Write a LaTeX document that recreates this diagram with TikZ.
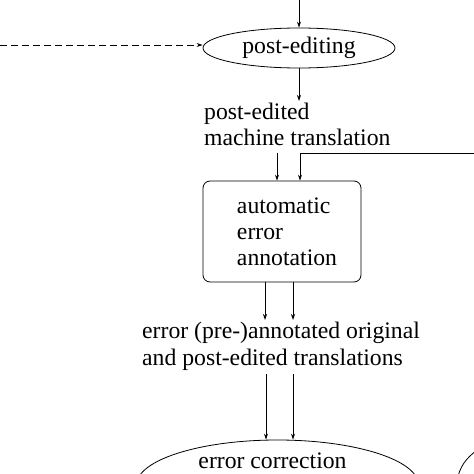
\documentclass[tikz,border=0pt]{standalone}
\usepackage{fontspec}
\setmainfont{Liberation Serif}
\usetikzlibrary{shapes.geometric,arrows.meta}
\begin{document}
\begin{tikzpicture}[x=1pt,y=-1pt,
  every node/.style={font=\fontsize{23.7}{25.5}\selectfont, inner sep=0pt},
  arr/.style={draw, line width=0.8pt, -{Stealth[length=6pt,width=4pt]}},
  dasharr/.style={arr, dash pattern=on 7pt off 4pt},
  oval/.style={ellipse, draw, line width=0.8pt},
  procbox/.style={draw, rounded corners=7pt, line width=0.8pt, minimum width=158pt, minimum height=101pt, align=left, font=\fontsize{23.7}{26}\selectfont},
  lbl/.style={align=left}]
\useasboundingbox (0,0) rectangle (474,474);
\clip (0,0) rectangle (474,474);
% nodes
\node[oval, minimum width=192pt, minimum height=40pt] (pe) at (299,48) {post-editing};
\node[lbl, anchor=north west] (pemt) at (204,103) {post-edited\\machine translation};
\node[procbox] (box) at (282,231.5) {\hspace*{10pt}automatic\\\hspace*{10pt}error\\\hspace*{10pt}annotation};
\node[lbl, anchor=north west, font=\fontsize{23.7}{27}\selectfont] (ept) at (142,322) {error (pre-)annotated original\\and post-edited translations};
\node[oval, minimum width=282pt, minimum height=90pt] (ec) at (277.5,485) {};
\node[anchor=base] (ectext) at (272.5,468) {error correction};
\node[oval, minimum width=110pt, minimum height=90pt] (rc) at (512,485) {};
% free ends
\coordinate (topin) at (299,0);
\coordinate (dsrc) at (0,45);
\coordinate (rin) at (474,153);
% connectors
\draw[arr] (topin) -- (pe.north);
\draw[dasharr] (dsrc) -- (dsrc -| pe.west);
\draw[arr, shorten >=2pt] (pe.south) -- (pe.south |- pemt.north);
\draw[arr] ([xshift=-5pt,yshift=28pt]box.north) -- ([xshift=-5pt]box.north);
\draw[arr] (rin) -| ([xshift=18pt]box.north);
\draw[arr, shorten >=2pt] ([xshift=-17pt]box.south) -- ([xshift=-17pt]box.south |- ept.north);
\draw[arr, shorten >=2pt] ([xshift=11pt]box.south) -- ([xshift=11pt]box.south |- ept.north);
\draw[arr, shorten <=3pt] ([xshift=-11.5pt]ec.north |- ept.south) -- ([xshift=-11.5pt]ec.north);
\draw[arr, shorten <=3pt] ([xshift=15.5pt]ec.north |- ept.south) -- ([xshift=15.5pt]ec.north);
\end{tikzpicture}
\end{document}
